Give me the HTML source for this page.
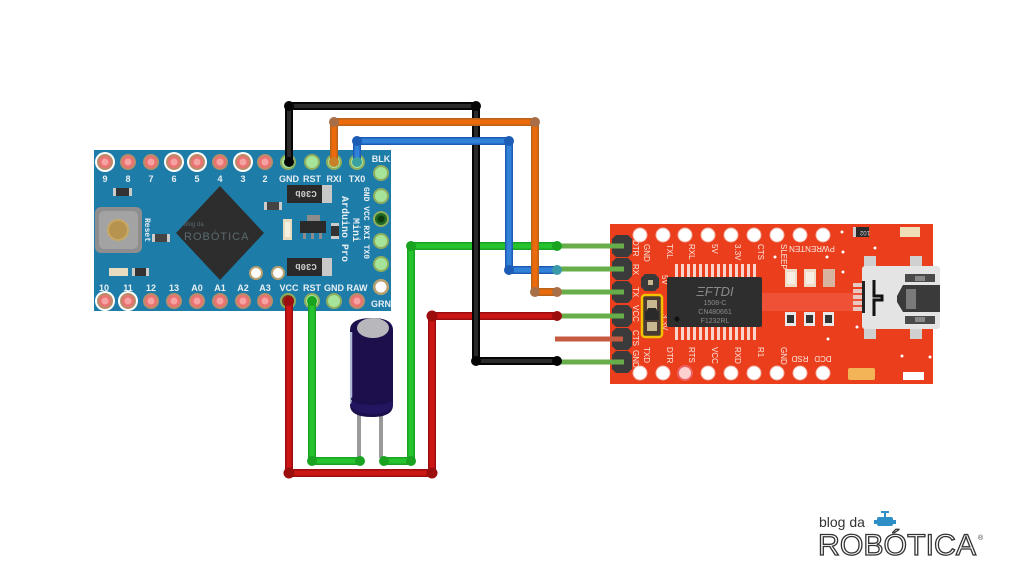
<!DOCTYPE html>
<html><head><meta charset="utf-8">
<style>
html,body{margin:0;padding:0;background:#fff;}
svg{display:block;}
text{font-family:"Liberation Sans",sans-serif;}
.m{font-family:"Liberation Mono",monospace;font-weight:bold;}
</style></head>
<body>
<svg width="1024" height="576" viewBox="0 0 1024 576" xmlns="http://www.w3.org/2000/svg">
<rect width="1024" height="576" fill="#fff"/>

<!-- ================= ARDUINO PRO MINI ================= -->
<rect x="94" y="150" width="297" height="161" fill="#1e7ca8"/>
<rect x="95" y="207" width="47" height="46" rx="6" fill="#8e8e8e"/>
<rect x="99" y="211" width="39" height="38" rx="5" fill="#a3a3a3"/>
<circle cx="118" cy="230" r="11" fill="#c8a864"/>
<circle cx="118" cy="230" r="9" fill="#b69450"/>
<text class="m" transform="translate(145,218) rotate(90)" font-size="8" fill="#e8f0f4">Reset</text>
<polygon points="220,186 264,233 220,280 176,233" fill="#2d2d2d"/>
<text transform="translate(184,226)" font-size="6" fill="#5a6a70">blog da</text>
<text transform="translate(184,240)" font-size="11" fill="#5a6a70" letter-spacing="1">ROBÓTICA</text>
<rect x="113" y="188" width="19" height="8" fill="#333"/><rect x="113" y="188" width="3" height="8" fill="#ccc"/><rect x="129" y="188" width="3" height="8" fill="#ccc"/>
<rect x="264" y="202" width="18" height="8" fill="#444"/><rect x="264" y="202" width="3" height="8" fill="#ccc"/><rect x="279" y="202" width="3" height="8" fill="#ccc"/>
<rect x="152" y="234" width="18" height="8" fill="#444"/><rect x="152" y="234" width="3" height="8" fill="#ccc"/><rect x="167" y="234" width="3" height="8" fill="#ccc"/>
<rect x="283" y="219" width="9" height="21" fill="#e8dcc0"/><rect x="285" y="222" width="5" height="15" fill="#f6f0e0"/>
<rect x="307" y="215" width="13" height="7" fill="#8c8c8c"/>
<rect x="300" y="221" width="26" height="12" fill="#2a2a2a"/>
<rect x="303" y="233" width="3" height="6" fill="#8c8c8c"/><rect x="311" y="233" width="3" height="6" fill="#8c8c8c"/><rect x="319" y="233" width="3" height="6" fill="#8c8c8c"/>
<rect x="331" y="223" width="8" height="16" fill="#333"/><rect x="331" y="223" width="8" height="3" fill="#ccc"/><rect x="331" y="236" width="8" height="3" fill="#ccc"/>
<rect x="109" y="268" width="19" height="8" fill="#e8dcc0"/>
<rect x="132" y="268" width="17" height="8" fill="#333"/><rect x="132" y="268" width="3" height="8" fill="#ccc"/><rect x="146" y="268" width="3" height="8" fill="#ccc"/>
<rect x="287" y="185" width="45" height="18" fill="#2a2a2a"/><rect x="322" y="185" width="10" height="18" fill="#c8c8c8"/>
<text class="m" transform="translate(306,191) rotate(180)" text-anchor="middle" font-size="9" fill="#cfcfcf">C30b</text>
<rect x="287" y="258" width="45" height="18" fill="#2a2a2a"/><rect x="322" y="258" width="10" height="18" fill="#c8c8c8"/>
<text class="m" transform="translate(306,264) rotate(180)" text-anchor="middle" font-size="9" fill="#cfcfcf">C30b</text>
<text class="m" transform="translate(342,196) rotate(90)" font-size="10" fill="#e8f0f4">Arduino Pro</text>
<text class="m" transform="translate(353,218) rotate(90)" font-size="10" fill="#e8f0f4">Mini</text>
<text class="m" transform="translate(364,187) rotate(90)" font-size="8" fill="#e8f0f4">GND VCC RXI TX0</text>
<circle cx="256" cy="273" r="7" fill="#b8a070"/><circle cx="256" cy="273" r="5" fill="#fff"/>
<circle cx="278" cy="273" r="7" fill="#b8a070"/><circle cx="278" cy="273" r="5" fill="#fff"/>

<g>
<circle cx="105" cy="162" r="10" fill="#fff"/><circle cx="174" cy="162" r="10" fill="#fff"/><circle cx="197" cy="162" r="10" fill="#fff"/><circle cx="243" cy="162" r="10" fill="#fff"/>
<circle cx="105" cy="301" r="10" fill="#fff"/><circle cx="128" cy="301" r="10" fill="#fff"/>
</g>
<g fill="#b98d6a">
<circle cx="105" cy="162" r="8"/><circle cx="128" cy="162" r="8"/><circle cx="151" cy="162" r="8"/><circle cx="174" cy="162" r="8"/><circle cx="197" cy="162" r="8"/><circle cx="220" cy="162" r="8"/><circle cx="243" cy="162" r="8"/><circle cx="265" cy="162" r="8"/>
<circle cx="105" cy="301" r="8"/><circle cx="128" cy="301" r="8"/><circle cx="151" cy="301" r="8"/><circle cx="174" cy="301" r="8"/><circle cx="197" cy="301" r="8"/><circle cx="220" cy="301" r="8"/><circle cx="243" cy="301" r="8"/><circle cx="265" cy="301" r="8"/><circle cx="357" cy="301" r="8"/>
</g>
<g fill="#ec7272">
<circle cx="105" cy="162" r="6"/><circle cx="128" cy="162" r="6"/><circle cx="151" cy="162" r="6"/><circle cx="174" cy="162" r="6"/><circle cx="197" cy="162" r="6"/><circle cx="220" cy="162" r="6"/><circle cx="243" cy="162" r="6"/><circle cx="265" cy="162" r="6"/>
<circle cx="105" cy="301" r="6"/><circle cx="128" cy="301" r="6"/><circle cx="151" cy="301" r="6"/><circle cx="174" cy="301" r="6"/><circle cx="197" cy="301" r="6"/><circle cx="220" cy="301" r="6"/><circle cx="243" cy="301" r="6"/><circle cx="265" cy="301" r="6"/><circle cx="357" cy="301" r="6"/>
</g>
<g fill="#f4a2a2">
<circle cx="105" cy="162" r="3.5"/><circle cx="128" cy="162" r="3.5"/><circle cx="151" cy="162" r="3.5"/><circle cx="174" cy="162" r="3.5"/><circle cx="197" cy="162" r="3.5"/><circle cx="220" cy="162" r="3.5"/><circle cx="243" cy="162" r="3.5"/><circle cx="265" cy="162" r="3.5"/>
<circle cx="105" cy="301" r="3.5"/><circle cx="128" cy="301" r="3.5"/><circle cx="151" cy="301" r="3.5"/><circle cx="174" cy="301" r="3.5"/><circle cx="197" cy="301" r="3.5"/><circle cx="220" cy="301" r="3.5"/><circle cx="243" cy="301" r="3.5"/><circle cx="265" cy="301" r="3.5"/><circle cx="357" cy="301" r="3.5"/>
</g>
<g fill="#8fae5e">
<circle cx="288" cy="162" r="8"/><circle cx="312" cy="162" r="8"/><circle cx="334" cy="162" r="8"/><circle cx="357" cy="162" r="8"/>
<circle cx="381" cy="173" r="8"/><circle cx="381" cy="196" r="8"/><circle cx="381" cy="219" r="8"/><circle cx="381" cy="241" r="8"/><circle cx="381" cy="264" r="8"/><circle cx="381" cy="287" r="8"/>
<circle cx="288" cy="301" r="8"/><circle cx="312" cy="301" r="8"/><circle cx="334" cy="301" r="8"/>
</g>
<g fill="#a6e49a">
<circle cx="288" cy="162" r="6"/><circle cx="312" cy="162" r="6"/><circle cx="334" cy="162" r="6"/><circle cx="357" cy="162" r="6"/>
<circle cx="381" cy="173" r="6"/><circle cx="381" cy="196" r="6"/><circle cx="381" cy="241" r="6"/><circle cx="381" cy="264" r="6"/>
<circle cx="312" cy="301" r="6"/><circle cx="334" cy="301" r="6"/>
</g>
<circle cx="381" cy="219" r="6" fill="#1f6a22"/><circle cx="381" cy="219" r="3.5" fill="#0f3a12"/>
<circle cx="381" cy="287" r="8" fill="#b8a070"/><circle cx="381" cy="287" r="5.5" fill="#fff"/>
<circle cx="288" cy="301" r="6" fill="#7a3a20"/>

<g class="m" font-size="9" fill="#e8f0f4" text-anchor="middle">
<text x="105" y="182">9</text><text x="128" y="182">8</text><text x="151" y="182">7</text><text x="174" y="182">6</text><text x="197" y="182">5</text><text x="220" y="182">4</text><text x="243" y="182">3</text><text x="265" y="182">2</text>
<text x="289" y="182">GND</text><text x="312" y="182">RST</text><text x="334" y="182">RXI</text><text x="357" y="182">TX0</text>
<text x="381" y="162">BLK</text><text x="381" y="307">GRN</text>
<text x="104" y="291">10</text><text x="128" y="291">11</text><text x="151" y="291">12</text><text x="174" y="291">13</text><text x="197" y="291">A0</text><text x="220" y="291">A1</text><text x="243" y="291">A2</text><text x="265" y="291">A3</text>
<text x="289" y="291">VCC</text><text x="312" y="291">RST</text><text x="334" y="291">GND</text><text x="357" y="291">RAW</text>
</g>

<!-- ================= FTDI ================= -->
<rect x="610" y="224" width="323" height="160" fill="#ea3e1c"/>
<rect x="762" y="293" width="100" height="18" fill="#ef5a40" opacity="0.7"/>
<g fill="#fff" stroke="#f3b0a0" stroke-width="1">
<circle cx="640" cy="235" r="7"/><circle cx="663" cy="235" r="7"/><circle cx="685" cy="235" r="7"/><circle cx="708" cy="235" r="7"/><circle cx="731" cy="235" r="7"/><circle cx="754" cy="235" r="7"/><circle cx="777" cy="235" r="7"/><circle cx="800" cy="235" r="7"/><circle cx="823" cy="235" r="7"/>
<circle cx="640" cy="373" r="7"/><circle cx="663" cy="373" r="7"/><circle cx="708" cy="373" r="7"/><circle cx="731" cy="373" r="7"/><circle cx="754" cy="373" r="7"/><circle cx="777" cy="373" r="7"/><circle cx="800" cy="373" r="7"/><circle cx="823" cy="373" r="7"/>
</g>
<circle cx="685" cy="373" r="8" fill="#f06060"/><circle cx="685" cy="373" r="6" fill="#ffd0d0"/>
<g font-size="8" fill="#fbe8e0">
<text transform="translate(644,244) rotate(90)">GND</text>
<text transform="translate(667,244) rotate(90)">TXL</text>
<text transform="translate(689,244) rotate(90)">RXL</text>
<text transform="translate(712,244) rotate(90)">5V</text>
<text transform="translate(735,244) rotate(90)">3.3V</text>
<text transform="translate(758,244) rotate(90)">CTS</text>
<text transform="translate(781,244) rotate(90)">SLEEP</text>
<text transform="translate(812,246) rotate(180)" text-anchor="middle">PWRENTEN</text>
<text transform="translate(644,347) rotate(90)">TXD</text>
<text transform="translate(667,347) rotate(90)">DTR</text>
<text transform="translate(689,347) rotate(90)">RTS</text>
<text transform="translate(712,347) rotate(90)">VCC</text>
<text transform="translate(735,347) rotate(90)">RXD</text>
<text transform="translate(758,347) rotate(90)">R1</text>
<text transform="translate(781,347) rotate(90)">GND</text>
<text transform="translate(800,356) rotate(180)" text-anchor="middle">RSD</text>
<text transform="translate(823,356) rotate(180)" text-anchor="middle">DCD</text>
<text transform="translate(662,275) rotate(90)">5V</text>
<text transform="translate(662,314) rotate(90)">3.3V</text>
<text transform="translate(633,240) rotate(90)">DTR</text>
<text transform="translate(633,264) rotate(90)">RX</text>
<text transform="translate(633,287) rotate(90)">TX</text>
<text transform="translate(633,305) rotate(90)">VCC</text>
<text transform="translate(633,330) rotate(90)">CTS</text>
<text transform="translate(633,350) rotate(90)">GND</text>
</g>
<g fill="#f8d4cc">
<rect x="675" y="264" width="3" height="14"/><rect x="681" y="264" width="3" height="14"/><rect x="687" y="264" width="3" height="14"/><rect x="693" y="264" width="3" height="14"/><rect x="699" y="264" width="3" height="14"/><rect x="705" y="264" width="3" height="14"/><rect x="711" y="264" width="3" height="14"/><rect x="717" y="264" width="3" height="14"/><rect x="723" y="264" width="3" height="14"/><rect x="729" y="264" width="3" height="14"/><rect x="735" y="264" width="3" height="14"/><rect x="741" y="264" width="3" height="14"/><rect x="747" y="264" width="3" height="14"/><rect x="753" y="264" width="3" height="14"/>
<rect x="675" y="326" width="3" height="14"/><rect x="681" y="326" width="3" height="14"/><rect x="687" y="326" width="3" height="14"/><rect x="693" y="326" width="3" height="14"/><rect x="699" y="326" width="3" height="14"/><rect x="705" y="326" width="3" height="14"/><rect x="711" y="326" width="3" height="14"/><rect x="717" y="326" width="3" height="14"/><rect x="723" y="326" width="3" height="14"/><rect x="729" y="326" width="3" height="14"/><rect x="735" y="326" width="3" height="14"/><rect x="741" y="326" width="3" height="14"/><rect x="747" y="326" width="3" height="14"/><rect x="753" y="326" width="3" height="14"/>
</g>
<rect x="667" y="277" width="95" height="50" rx="2" fill="#2e2e2e"/>
<circle cx="677" cy="319" r="2.5" fill="#111"/>
<g fill="#8a8a8a" text-anchor="middle">
<text x="715" y="296" font-size="13" font-style="italic">ΞFTDI</text>
<text x="715" y="305" font-size="7">1508-C</text>
<text x="715" y="314" font-size="7">CN480661</text>
<text x="715" y="323" font-size="7">F1232RL</text>
</g>
<polygon points="645,274 655,274 659,278 659,287 655,291 645,291 641,287 641,278" fill="#3a3a3a"/>
<rect x="648" y="280" width="5" height="5" fill="#c8b890"/>
<rect x="642" y="295" width="20" height="42" rx="3" fill="#4a3a32" stroke="#f2c200" stroke-width="2.5"/>
<rect x="647" y="300" width="10" height="9" fill="#c8b890"/>
<rect x="647" y="322" width="10" height="9" fill="#c8b890"/>
<polygon points="645,311 648,311 648,308 656,308 656,311 659,311 659,320 645,320" fill="#2a2a2a"/>
<g fill="#3b3b3b">
<polygon points="616,235 628,235 632,239 632,253 628,257 616,257 612,253 612,239"/>
<polygon points="616,258 628,258 632,262 632,276 628,280 616,280 612,276 612,262"/>
<polygon points="616,281 628,281 632,285 632,299 628,303 616,303 612,299 612,285"/>
<polygon points="616,305 628,305 632,309 632,323 628,327 616,327 612,323 612,309"/>
<polygon points="616,328 628,328 632,332 632,346 628,350 616,350 612,346 612,332"/>
<polygon points="616,351 628,351 632,355 632,369 628,373 616,373 612,369 612,355"/>
</g>
<g stroke="#67ad4a" stroke-width="5">
<line x1="557" y1="246" x2="624" y2="246"/>
<line x1="557" y1="269" x2="624" y2="269"/>
<line x1="557" y1="292" x2="624" y2="292"/>
<line x1="557" y1="316" x2="624" y2="316"/>
<line x1="557" y1="362" x2="624" y2="362"/>
</g>
<line x1="555" y1="339" x2="623" y2="339" stroke="#c65a40" stroke-width="5"/>
<rect x="853" y="227" width="16" height="10" fill="#2a2a2a"/><rect x="853" y="227" width="3" height="10" fill="#ccc"/>
<text transform="translate(865,231) rotate(180)" font-size="6" fill="#ddd" text-anchor="middle">102</text>
<rect x="900" y="227" width="20" height="10" fill="#efdfb8"/>
<rect x="785" y="269" width="12" height="18" fill="#efdcc8"/><rect x="787" y="272" width="8" height="12" fill="#f8efe4"/>
<rect x="804" y="269" width="12" height="18" fill="#efdcc8"/><rect x="806" y="272" width="8" height="12" fill="#f8efe4"/>
<rect x="823" y="269" width="12" height="18" fill="#d8b4a0"/>
<g fill="#e8e8e8"><rect x="785" y="312" width="11" height="14"/><rect x="804" y="312" width="11" height="14"/><rect x="823" y="312" width="11" height="14"/></g>
<g fill="#333"><rect x="787" y="315" width="7" height="8"/><rect x="806" y="315" width="7" height="8"/><rect x="825" y="315" width="7" height="8"/></g>
<g fill="#fff"><circle cx="842" cy="232" r="1.5"/><circle cx="843" cy="252" r="1.5"/><circle cx="875" cy="248" r="1.5"/><circle cx="843" cy="272" r="1.5"/><circle cx="775" cy="257" r="1.5"/><circle cx="827" cy="257" r="1.5"/><circle cx="828" cy="339" r="1.5"/><circle cx="857" cy="327" r="1.5"/><circle cx="902" cy="356" r="1.5"/><circle cx="930" cy="357" r="1.5"/></g>
<rect x="848" y="368" width="27" height="12" rx="2" fill="#f2b456"/>
<rect x="903" y="372" width="21" height="8" fill="#fff"/>
<rect x="864" y="256" width="12" height="12" fill="#d0d0d0"/><rect x="910" y="256" width="12" height="12" fill="#d0d0d0"/>
<rect x="864" y="328" width="12" height="11" fill="#d0d0d0"/><rect x="910" y="328" width="12" height="11" fill="#d0d0d0"/>
<rect x="853" y="283" width="10" height="4" fill="#e8c8c0"/><rect x="853" y="289" width="10" height="4" fill="#e8c8c0"/><rect x="853" y="295" width="10" height="4" fill="#e8c8c0"/><rect x="853" y="301" width="10" height="4" fill="#e8c8c0"/><rect x="853" y="307" width="10" height="4" fill="#e8c8c0"/>
<rect x="862" y="266" width="78" height="63" rx="3" fill="#e4e4e4"/>
<rect x="862" y="281" width="3" height="32" fill="#222"/>
<path d="M874 280 V296 H882 V300 H874 V316" stroke="#111" stroke-width="3" fill="none"/>
<path d="M897 296 L903 285 L940 285 L940 312 L903 312 L897 302 Z" fill="#3a3a3a"/>
<rect x="906" y="289" width="10" height="20" fill="#7a7a7a"/>
<rect x="905" y="274" width="30" height="8" fill="#4a4a4a"/><rect x="915" y="276" width="10" height="5" fill="#888"/>
<rect x="905" y="316" width="30" height="8" fill="#4a4a4a"/><rect x="915" y="317" width="10" height="5" fill="#888"/>

<!-- ================= CAPACITOR ================= -->
<line x1="359" y1="410" x2="359" y2="458" stroke="#9a9a9a" stroke-width="4"/>
<line x1="381" y1="410" x2="381" y2="458" stroke="#9a9a9a" stroke-width="4"/>
<path d="M350 330 Q350 318 372 318 Q393 318 393 330 L393 405 Q393 417 372 417 Q350 417 350 405 Z" fill="#1c0f4c"/>
<path d="M351 332 L351 404" stroke="#d8e6f8" stroke-width="2.5" opacity="0.8"/>
<ellipse cx="372" cy="404" rx="21" ry="10" fill="#241560"/>
<ellipse cx="372" cy="399" rx="21" ry="6" fill="#1c0f4c"/>
<ellipse cx="373" cy="328" rx="16" ry="10" fill="#b8b8bc"/>

<!-- ================= WIRES ================= -->
<g fill="none" stroke-linejoin="round" stroke-linecap="round">
<path d="M557 246 H411 V461 H384" stroke="#19a321" stroke-width="8"/>
<path d="M557 246 H411 V461 H384" stroke="#27c32e" stroke-width="5"/>
<path d="M312 301 V461 H360" stroke="#19a321" stroke-width="8"/>
<path d="M312 301 V461 H360" stroke="#27c32e" stroke-width="5"/>
<path d="M289 301 V473 H432 V316 H557" stroke="#9c0e0e" stroke-width="8"/>
<path d="M289 301 V473 H432 V316 H557" stroke="#cc1616" stroke-width="5"/>
<path d="M289 162 V106 H476 V361 H557" stroke="#050505" stroke-width="8"/>
<path d="M289 162 V106 H476 V361 H557" stroke="#2a2a2a" stroke-width="4"/>
<path d="M357 162 V141 H509 V270 H557" stroke="#1c5cb4" stroke-width="8"/>
<path d="M357 162 V141 H509 V270 H557" stroke="#3281d8" stroke-width="5"/>
<path d="M334 162 V122 H535 V292 H557" stroke="#b8621a" stroke-width="8"/>
<path d="M334 162 V122 H535 V292 H557" stroke="#ea6a0c" stroke-width="5"/>
</g>
<g fill="#19a321"><circle cx="411" cy="246" r="5"/><circle cx="411" cy="461" r="5"/><circle cx="384" cy="461" r="5"/><circle cx="312" cy="461" r="5"/><circle cx="360" cy="461" r="5"/><circle cx="557" cy="246" r="5"/><circle cx="312" cy="301" r="5"/></g>
<g fill="#9c0e0e"><circle cx="289" cy="473" r="5.5"/><circle cx="432" cy="473" r="5.5"/><circle cx="432" cy="316" r="5.5"/><circle cx="557" cy="316" r="5"/><circle cx="289" cy="301" r="5"/></g>
<g fill="#050505"><circle cx="289" cy="106" r="5"/><circle cx="476" cy="106" r="5"/><circle cx="476" cy="361" r="5"/><circle cx="557" cy="361" r="5"/><circle cx="289" cy="162" r="5"/></g>
<g fill="#1c5cb4"><circle cx="357" cy="141" r="5"/><circle cx="509" cy="141" r="5"/><circle cx="509" cy="270" r="5"/></g>
<circle cx="557" cy="270" r="5" fill="#3a9aa8"/><circle cx="357" cy="162" r="5" fill="#3aa0a0"/>
<g fill="#a86e48"><circle cx="334" cy="122" r="5"/><circle cx="535" cy="122" r="5"/><circle cx="535" cy="292" r="5"/><circle cx="557" cy="292" r="5"/></g>
<circle cx="334" cy="162" r="5" fill="#c8822a"/>

<!-- ================= LOGO ================= -->
<text x="819" y="527" font-size="14" fill="#333">blog da</text>
<rect x="877" y="517" width="16" height="9" rx="2" fill="#2e8fc6"/>
<rect x="884" y="512" width="2" height="5" fill="#2e8fc6"/><rect x="881" y="511" width="8" height="2" fill="#2e8fc6"/>
<rect x="874" y="520" width="3" height="4" fill="#2e8fc6"/><rect x="893" y="520" width="3" height="4" fill="#2e8fc6"/>
<text x="818" y="555" font-size="30" fill="none" stroke="#333" stroke-width="1.3" textLength="158" lengthAdjust="spacingAndGlyphs">ROBÓTICA</text>
<text x="978" y="540" font-size="7" fill="#3a3a3a">®</text>
</svg>
</body></html>
